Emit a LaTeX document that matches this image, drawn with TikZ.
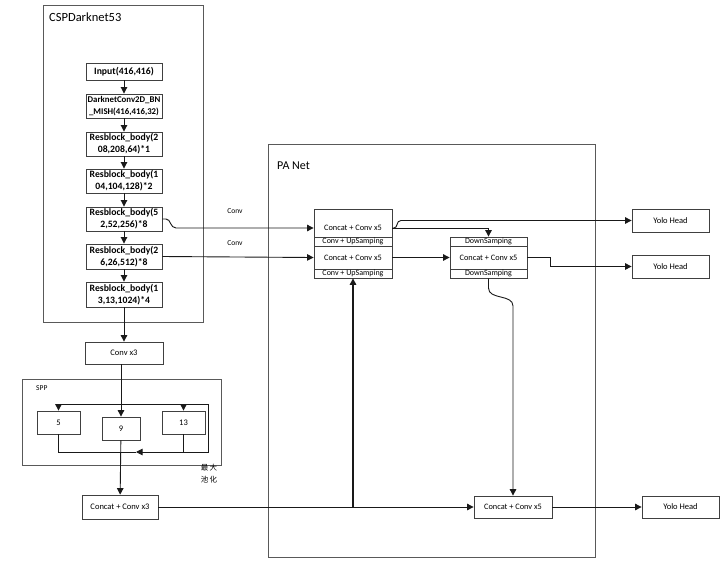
\documentclass[tikz,border=0pt]{standalone}
\usepackage{fontspec}
\setmainfont{Carlito}
\newfontfamily\cjk{Noto Sans CJK SC}
\usetikzlibrary{arrows.meta}
\begin{document}
\begin{tikzpicture}[x=1pt,y=-1pt,
  arr/.style={-{Triangle[length=6.5pt,width=6.5pt]}},
  ln/.style={draw=black!90,line width=0.9pt},
  panel/.style={draw=black!65,line width=0.9pt},
  cspbox/.style={draw=black!75,line width=0.9pt,fill=white,inner sep=0pt,align=center,
    minimum width=76pt,font=\bfseries\fontsize{9.7}{12}\selectfont},
  pbox/.style={draw=black!75,line width=0.8pt,fill=white,inner sep=0pt,align=center,
    font=\fontsize{8.5}{10}\selectfont},
  rowbox/.style={draw=black!75,line width=0.8pt,fill=white,inner sep=0pt,align=center,
    font=\fontsize{8}{8}\selectfont},
  plain/.style={inner sep=0pt}]
\useasboundingbox (0,0) rectangle (720,560);
% panels
\draw[panel] (43,5) rectangle (203,322);
\node[plain,anchor=west,font=\fontsize{12.5}{14}\selectfont] (csptitle) at (49,17) {CSPDarknet53};
\draw[panel] (268,144) rectangle (595,557);
\node[plain,anchor=west,font=\fontsize{12}{14}\selectfont] (patitle) at (277,166) {PA Net};
\draw[panel] (22,379) rectangle (221,465);
\node[plain,anchor=west,font=\fontsize{7.5}{9}\selectfont] (spptitle) at (36,388) {SPP};
% CSP boxes
\node[cspbox,minimum height=17pt] (input) at (124,71.5) {Input(416,416)};
\node[cspbox,minimum height=24pt,font=\bfseries\fontsize{8.8}{12}\selectfont] (dconv) at (124,106) {DarknetConv2D\_BN\\\_MISH(416,416,32)};
\node[cspbox,minimum height=24pt] (res1) at (124,144) {Resblock\_body(2\\08,208,64)*1};
\node[cspbox,minimum height=24pt] (res2) at (124,181) {Resblock\_body(1\\04,104,128)*2};
\node[cspbox,minimum height=24pt] (res3) at (124,219) {Resblock\_body(5\\2,52,256)*8};
\node[cspbox,minimum height=25pt] (res4) at (124,256.5) {Resblock\_body(2\\6,26,512)*8};
\node[cspbox,minimum height=25pt] (res5) at (124,294.5) {Resblock\_body(1\\3,13,1024)*4};
% neck boxes
\node[pbox,minimum width=78pt,minimum height=22pt] (convx3) at (124,353) {Conv x3};
\node[pbox,minimum width=43pt,minimum height=23pt] (box5) at (58.5,422.5) {5};
\node[pbox,minimum width=38pt,minimum height=23pt] (box9) at (121,428.5) {9};
\node[pbox,minimum width=43pt,minimum height=23pt] (box13) at (183.5,422.5) {13};
\node[plain,align=center,font=\cjk\fontsize{7.5}{12}\selectfont] (pool) at (209,474) {最\,大\\池\,化};
\node[pbox,minimum width=76pt,minimum height=24pt] (concat3) at (120,507) {Concat + Conv x3};
% PANet left group
\node[rowbox,minimum width=78pt,minimum height=28pt] (row1) at (353,223) {};
\node[plain,font=\fontsize{8.3}{9}\selectfont] (r1t) at (353,228) {Concat + Conv x5};
\node[rowbox,minimum width=78pt,minimum height=9pt] (row2) at (353,241.5) {Conv + UpSamping};
\node[rowbox,minimum width=78pt,minimum height=23pt,font=\fontsize{8.3}{9}\selectfont] (row3) at (353,257.5) {Concat + Conv x5};
\node[rowbox,minimum width=78pt,minimum height=9pt] (row4) at (353,273.5) {Conv + UpSamping};
% PANet middle group
\node[rowbox,minimum width=77pt,minimum height=9pt] (md1) at (488.5,241.5) {DownSamping};
\node[rowbox,minimum width=77pt,minimum height=23pt,font=\fontsize{8.3}{9}\selectfont] (mc) at (488.5,257.5) {Concat + Conv x5};
\node[rowbox,minimum width=77pt,minimum height=9pt] (md2) at (488.5,273.5) {DownSamping};
\node[pbox,minimum width=78pt,minimum height=22pt,font=\fontsize{8.3}{9}\selectfont] (bconcat) at (513,507) {Concat + Conv x5};
% heads
\node[pbox,minimum width=77pt,minimum height=23pt] (yolo1) at (670.5,220.5) {Yolo Head};
\node[pbox,minimum width=77pt,minimum height=23pt] (yolo2) at (670.5,266.5) {Yolo Head};
\node[pbox,minimum width=77pt,minimum height=22pt] (yolo3) at (680.5,507) {Yolo Head};
% labels
\node[plain,font=\fontsize{7.5}{9}\selectfont] (lc1) at (235,211) {Conv};
\node[plain,font=\fontsize{7.5}{9}\selectfont] (lc2) at (235,243) {Conv};
% backbone chain
\draw[ln,arr] (input) -- (dconv);
\draw[ln,arr] (dconv) -- (res1);
\draw[ln,arr] (res1) -- (res2);
\draw[ln,arr] (res2) -- (res3);
\draw[ln,arr] (res3) -- (res4);
\draw[ln,arr] (res4) -- (res5);
\draw[ln,arr] (res5) -- (convx3);
\draw[ln,arr] (convx3.south -| box9.north) -- (box9.north);
% SPP loop
\coordinate (sT) at (208,404);
\coordinate (sB) at (208,452);
\coordinate (sA) at (136,452);
\draw[ln] (box5.north |- sT) -- (sT);
\draw[ln,arr] (sT) -- (sB) -- (sA);
\draw[ln,arr] (box5.north |- sT) -- (box5.north);
\draw[ln,arr] (box13.north |- sT) -- (box13.north);
\draw[ln] (box5.south) |- (sA);
\draw[ln] (box13.south) -- (box13.south |- sB);
\draw[ln,arr] (box9) -- (concat3);
% bottom path
\draw[ln,arr] (concat3) -- (bconcat);
\coordinate (br) at (row4.south |- concat3.east);
\draw[ln,arr,line width=1.1pt] (br) -- (row4.south);
\draw[ln,arr] (bconcat) -- (yolo3);
% lateral connections
\coordinate (h1) at (166,219);
\coordinate (h1c) at (171,219);
\coordinate (h1d) at (170,228);
\coordinate (h2) at (176,228);
\draw[ln,arr] (res3.east) -- (h1) .. controls (h1c) and (h1d) .. (h2) -- (row1.west |- r1t);
\draw[ln,arr] (res4.east) -- (row3.west);
% PANet internal
\draw[ln,arr] (row1.east |- r1t) -| (md1.north);
\coordinate (t1) at (394,228);
\coordinate (t1c) at (398,228);
\coordinate (t1d) at (396,220.5);
\coordinate (t2) at (401,220.5);
\draw[ln,arr] (row1.east |- r1t) -- (t1) .. controls (t1c) and (t1d) .. (t2) -- (yolo1.west);
\draw[ln,arr] (row3.east) -- (mc.west);
\coordinate (k2) at (550,257.5);
\draw[ln,arr] (mc.east) -- (k2) |- (yolo2.west);
\coordinate (k3a) at (488.5,288);
\coordinate (k3c) at (488.5,300);
\coordinate (k3d) at (513,294);
\coordinate (k3b) at (513,306);
\draw[ln,arr] (md2.south) -- (k3a) .. controls (k3c) and (k3d) .. (k3b) -- (bconcat.north);
\end{tikzpicture}
\end{document}
